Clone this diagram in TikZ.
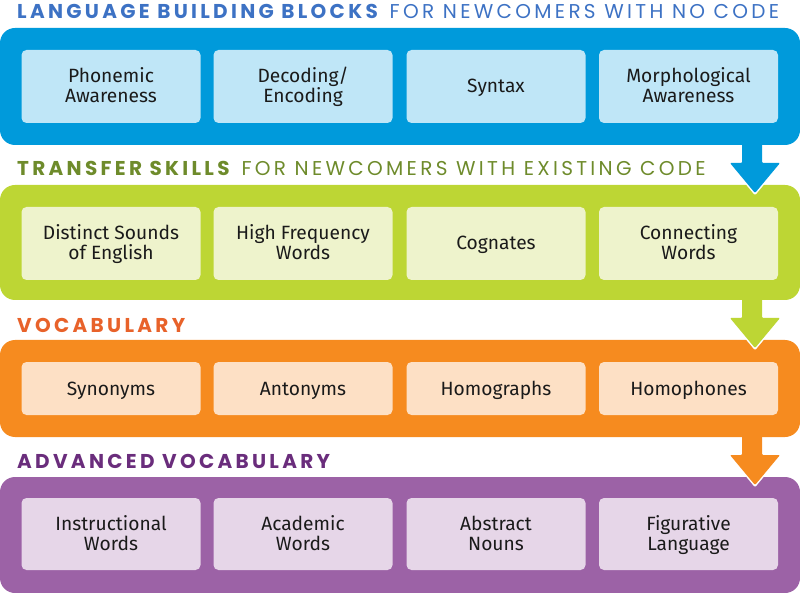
\documentclass[tikz,border=0pt]{standalone}
\usepackage{fontspec}
\usetikzlibrary{calc}
\newfontfamily\headfont[LetterSpace=16.5]{Poppins}
\newfontfamily\boxfont{Fira Sans}
\definecolor{bluePanel}{HTML}{009ADB}
\definecolor{blueBox}{HTML}{BFE6F7}
\definecolor{blueHead}{HTML}{3D72C4}
\definecolor{greenPanel}{HTML}{BDD634}
\definecolor{greenBox}{HTML}{EEF3CC}
\definecolor{greenHead}{HTML}{6E8B2B}
\definecolor{orangePanel}{HTML}{F68B1F}
\definecolor{orangeBox}{HTML}{FDE0C5}
\definecolor{orangeHead}{HTML}{E8622A}
\definecolor{purplePanel}{HTML}{9C62A6}
\definecolor{purpleBox}{HTML}{E6D6E8}
\definecolor{purpleHead}{HTML}{6A2D7C}
\definecolor{textDark}{HTML}{1A1A1A}
\begin{document}
\begin{tikzpicture}[x=1pt,y=-1pt,
  panel/.style={rounded corners=15pt, minimum width=800pt, inner sep=0pt, outer sep=0pt},
  itembox/.style={rounded corners=5pt, minimum width=179pt, inner sep=0pt, outer sep=0pt},
  itemtext/.style={anchor=base, inner sep=0pt, text=textDark, font=\boxfont\fontsize{19.2}{20}\selectfont},
  heading/.style={anchor=base west, inner sep=0pt, font=\headfont\fontsize{20}{22}\selectfont}
]
\newcommand{\itemtwo}[7]{%
  \node[itembox, fill=#5, minimum height=#4] (#1) at (#2,#3) {};
  \node[itemtext] (#1a) at ($(#1.center)+(0,-3.5)$) {#6};
  \node[itemtext] (#1b) at ($(#1.center)+(0,16.5)$) {#7};}
\newcommand{\itemone}[6]{%
  \node[itembox, fill=#5, minimum height=#4] (#1) at (#2,#3) {};
  \node[itemtext] (#1a) at ($(#1.center)+(0,6.5)$) {#6};}
\useasboundingbox (0,0) rectangle (800,593);
% panels
\node[panel, fill=bluePanel, minimum height=117pt] (p1) at (400,86.5) {};
\node[panel, fill=greenPanel, minimum height=115pt] (p2) at (400,242.5) {};
\node[panel, fill=orangePanel, minimum height=97pt] (p3) at (400,388.5) {};
\node[panel, fill=purplePanel, minimum height=116pt] (p4) at (400,535) {};
% headings
\node[heading, text=blueHead] (h1) at (17,19) {\textbf{LANGUAGE BUILDING BLOCKS} FOR NEWCOMERS WITH NO CODE};
\node[heading, text=greenHead] (h2) at (17,176) {\textbf{TRANSFER SKILLS} FOR NEWCOMERS WITH EXISTING CODE};
\node[heading, text=orangeHead] (h3) at (17,333) {\textbf{VOCABULARY}};
\node[heading, text=purpleHead] (h4) at (17,468) {\textbf{ADVANCED VOCABULARY}};
% row 1
\itemtwo{b11}{111}{86.5}{73pt}{blueBox}{Phonemic}{Awareness}
\itemtwo{b12}{303}{86.5}{73pt}{blueBox}{Decoding/}{Encoding}
\itemone{b13}{496}{86.5}{73pt}{blueBox}{Syntax}
\itemtwo{b14}{688.5}{86.5}{73pt}{blueBox}{Morphological}{Awareness}
% row 2
\itemtwo{b21}{111}{243.5}{73pt}{greenBox}{Distinct Sounds}{of English}
\itemtwo{b22}{303}{243.5}{73pt}{greenBox}{High Frequency}{Words}
\itemone{b23}{496}{243.5}{73pt}{greenBox}{Cognates}
\itemtwo{b24}{688.5}{243.5}{73pt}{greenBox}{Connecting}{Words}
% row 3
\itemone{b31}{111}{388.5}{53pt}{orangeBox}{Synonyms}
\itemone{b32}{303}{388.5}{53pt}{orangeBox}{Antonyms}
\itemone{b33}{496}{388.5}{53pt}{orangeBox}{Homographs}
\itemone{b34}{688.5}{388.5}{53pt}{orangeBox}{Homophones}
% row 4
\itemtwo{b41}{111}{534}{72pt}{purpleBox}{Instructional}{Words}
\itemtwo{b42}{303}{534}{72pt}{purpleBox}{Academic}{Words}
\itemtwo{b43}{496}{534}{72pt}{purpleBox}{Abstract}{Nouns}
\itemtwo{b44}{688.5}{534}{72pt}{purpleBox}{Figurative}{Language}
% arrows
\newcommand{\flowarrow}[2]{%
  \draw[white, line width=3pt, line join=round]
    ($(#1.south)+(362,18)$) -- ($(#1.south)+(380,18)$) -- ($(#1.south)+(355,48)$)
    -- ($(#1.south)+(330,18)$) -- ($(#1.south)+(342,18)$);
  \fill[#2, rounded corners=1pt]
    ($(#1.south)+(342,-4)$) -- ($(#1.south)+(362,-4)$) -- ($(#1.south)+(362,18)$)
    -- ($(#1.south)+(380,18)$) -- ($(#1.south)+(355,48)$) -- ($(#1.south)+(330,18)$)
    -- ($(#1.south)+(342,18)$) -- cycle;}
\flowarrow{p1}{bluePanel}
\flowarrow{p2}{greenPanel}
\flowarrow{p3}{orangePanel}
\end{tikzpicture}
\end{document}
